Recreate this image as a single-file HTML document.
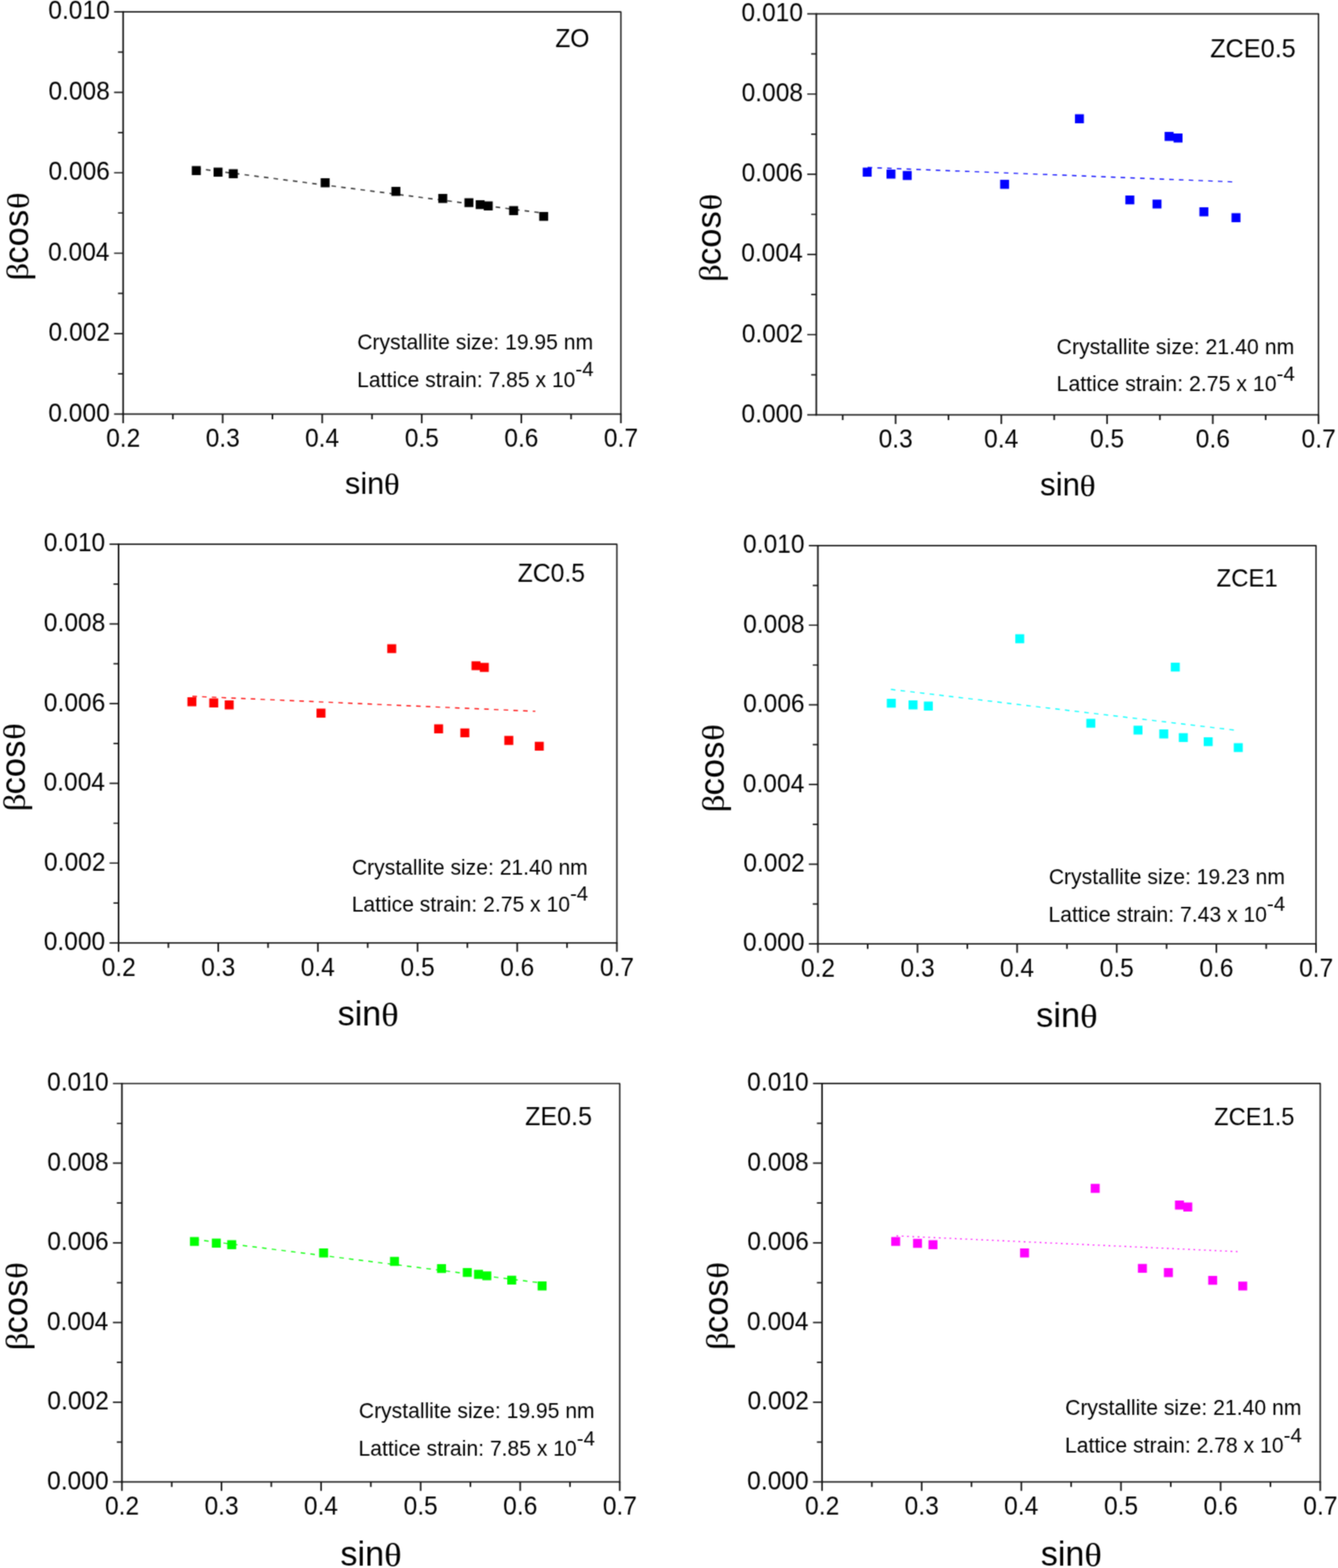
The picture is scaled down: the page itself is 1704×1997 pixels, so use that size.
<!DOCTYPE html>
<html><head><meta charset="utf-8"><title>Williamson-Hall plots</title>
<style>
html,body{margin:0;padding:0;background:#fff;}
svg{display:block;}
</style></head><body>
<svg width="1704" height="1997" viewBox="0 0 1704 1997" font-family="'Liberation Sans', Arial, sans-serif" fill="#000">
<defs><filter id="soft" color-interpolation-filters="sRGB" x="0" y="0" width="1704" height="1997" filterUnits="userSpaceOnUse"><feConvolveMatrix order="3" kernelMatrix="1 2 1 2 8 2 1 2 1" edgeMode="duplicate" preserveAlpha="false"/></filter></defs>
<rect width="1704" height="1997" fill="#fff"/>
<g filter="url(#soft)">
<rect width="1704" height="1997" fill="#fff"/>
<g>
<path d="M156.8 15.1H790.7V527.4" fill="none" stroke="#111111" stroke-width="1.7" stroke-linejoin="round"/>
<path d="M155.8 527.4H791.55" fill="none" stroke="#111111" stroke-width="1.7"/>
<path d="M156.8 14.25V528.25" fill="none" stroke="#111111" stroke-width="2"/>
<path d="M156.8 527.4h-11.5M156.8 476.17h-6.5M156.8 424.94h-11.5M156.8 373.71h-6.5M156.8 322.48h-11.5M156.8 271.25h-6.5M156.8 220.02h-11.5M156.8 168.79h-6.5M156.8 117.56h-11.5M156.8 66.33h-6.5M156.8 15.1h-11.5" fill="none" stroke="#111111" stroke-width="1.7"/>
<path d="M156.8 527.4v11.5M220.19 527.4v6.5M283.58 527.4v11.5M346.97 527.4v6.5M410.36 527.4v11.5M473.75 527.4v6.5M537.14 527.4v11.5M600.53 527.4v6.5M663.92 527.4v11.5M727.31 527.4v6.5M790.7 527.4v11.5" fill="none" stroke="#111111" stroke-width="2"/>
<text transform="translate(61.51,536.73) scale(1,1.08)" font-size="31.3">0.000</text>
<text transform="translate(61.85,434.27) scale(1,1.08)" font-size="31.3">0.002</text>
<text transform="translate(61.2,331.81) scale(1,1.08)" font-size="31.3">0.004</text>
<text transform="translate(61.66,229.35) scale(1,1.08)" font-size="31.3">0.006</text>
<text transform="translate(61.63,126.89) scale(1,1.08)" font-size="31.3">0.008</text>
<text transform="translate(61.51,24.43) scale(1,1.08)" font-size="31.3">0.010</text>
<text transform="translate(135.22,569.43) scale(1,1.08)" font-size="31.3">0.2</text>
<text transform="translate(261.9,569.43) scale(1,1.08)" font-size="31.3">0.3</text>
<text transform="translate(388.45,569.43) scale(1,1.08)" font-size="31.3">0.4</text>
<text transform="translate(515.43,569.43) scale(1,1.08)" font-size="31.3">0.5</text>
<text transform="translate(642.24,569.43) scale(1,1.08)" font-size="31.3">0.6</text>
<text transform="translate(769.12,569.43) scale(1,1.08)" font-size="31.3">0.7</text>
<text transform="translate(707.2,60.39) scale(1,1.055)" font-size="31.4">ZO</text>
<text x="454.93" y="445.4" font-size="26.9">Crystallite size: 19.95 nm</text>
<text x="454.79" y="492.8" font-size="26.9">Lattice strain: 7.85 x 10<tspan dy="-13.7" font-size="26.1">-4</tspan></text>
<text transform="translate(36.3,357.13) rotate(-90) scale(1.08,1)" font-size="41.0" font-family="'Liberation Serif', serif">β</text>
<text transform="translate(36.3,335.65) rotate(-90)" font-size="44">cos</text>
<text transform="translate(36.6,266.18) rotate(-90) scale(1.08,1)" font-size="41.0" font-family="'Liberation Serif', serif">θ</text>
<text x="439.3" y="629.3" font-size="39.2">sin</text>
<text transform="translate(489.09,630.3) scale(1.11,1)" font-size="37.63" font-family="'Liberation Serif', serif">θ</text>
<path d="M250 214.6L692.3 271.5" stroke="#333333" stroke-width="1.7" stroke-dasharray="5.8 6.6" fill="none"/>
<path d="M244.3 211.6h11.4v11.4h-11.4zM272 213.6h11.4v11.4h-11.4zM291.4 215.5h11.4v11.4h-11.4zM408.4 227h11.4v11.4h-11.4zM498.5 238h11.4v11.4h-11.4zM558.2 247h11.4v11.4h-11.4zM591.5 252.4h11.4v11.4h-11.4zM605.8 254.9h11.4v11.4h-11.4zM616.1 256.6h11.4v11.4h-11.4zM648.4 262.5h11.4v11.4h-11.4zM686.7 269.9h11.4v11.4h-11.4z" fill="#000000"/>
</g>
<g>
<path d="M1039.6 17.6H1679.2V528.4" fill="none" stroke="#111111" stroke-width="1.7" stroke-linejoin="round"/>
<path d="M1038.6 528.4H1680.05" fill="none" stroke="#111111" stroke-width="1.7"/>
<path d="M1039.6 16.75V529.25" fill="none" stroke="#111111" stroke-width="2"/>
<path d="M1039.6 528.4h-11.5M1039.6 477.32h-6.5M1039.6 426.24h-11.5M1039.6 375.16h-6.5M1039.6 324.08h-11.5M1039.6 273h-6.5M1039.6 221.92h-11.5M1039.6 170.84h-6.5M1039.6 119.76h-11.5M1039.6 68.68h-6.5M1039.6 17.6h-11.5" fill="none" stroke="#111111" stroke-width="1.7"/>
<path d="M1073.26 528.4v6.5M1140.59 528.4v11.5M1207.92 528.4v6.5M1275.24 528.4v11.5M1342.57 528.4v6.5M1409.89 528.4v11.5M1477.22 528.4v6.5M1544.55 528.4v11.5M1611.87 528.4v6.5M1679.2 528.4v11.5" fill="none" stroke="#111111" stroke-width="2"/>
<text transform="translate(944.31,537.73) scale(1,1.08)" font-size="31.3">0.000</text>
<text transform="translate(944.65,435.57) scale(1,1.08)" font-size="31.3">0.002</text>
<text transform="translate(944,333.41) scale(1,1.08)" font-size="31.3">0.004</text>
<text transform="translate(944.46,231.25) scale(1,1.08)" font-size="31.3">0.006</text>
<text transform="translate(944.43,129.09) scale(1,1.08)" font-size="31.3">0.008</text>
<text transform="translate(944.31,26.93) scale(1,1.08)" font-size="31.3">0.010</text>
<text transform="translate(1118.91,570.43) scale(1,1.08)" font-size="31.3">0.3</text>
<text transform="translate(1253.33,570.43) scale(1,1.08)" font-size="31.3">0.4</text>
<text transform="translate(1388.19,570.43) scale(1,1.08)" font-size="31.3">0.5</text>
<text transform="translate(1522.87,570.43) scale(1,1.08)" font-size="31.3">0.6</text>
<text transform="translate(1657.62,570.43) scale(1,1.08)" font-size="31.3">0.7</text>
<text transform="translate(1541.17,73.48) scale(1,1.055)" font-size="32.18">ZCE0.5</text>
<text x="1345.62" y="450.8" font-size="27.1">Crystallite size: 21.40 nm</text>
<text x="1345.58" y="498.3" font-size="27.1">Lattice strain: 2.75 x 10<tspan dy="-13.7" font-size="26.29">-4</tspan></text>
<text transform="translate(918.4,359.03) rotate(-90) scale(1.08,1)" font-size="41.0" font-family="'Liberation Serif', serif">β</text>
<text transform="translate(918.4,337.55) rotate(-90)" font-size="44">cos</text>
<text transform="translate(918.7,268.08) rotate(-90) scale(1.08,1)" font-size="41.0" font-family="'Liberation Serif', serif">θ</text>
<text x="1324.49" y="631.2" font-size="39.8">sin</text>
<text transform="translate(1374.97,632.2) scale(1.11,1)" font-size="38.21" font-family="'Liberation Serif', serif">θ</text>
<path d="M1105 213.3L1571.7 231.7" stroke="#0000ff" stroke-width="1.4" stroke-dasharray="5.8 6.6" fill="none"/>
<path d="M1098.7 213.5h11.4v11.4h-11.4zM1129 216.1h11.4v11.4h-11.4zM1149.7 217.8h11.4v11.4h-11.4zM1273.7 229h11.4v11.4h-11.4zM1369 145.6h11.4v11.4h-11.4zM1433.2 248.9h11.4v11.4h-11.4zM1467.8 254.2h11.4v11.4h-11.4zM1483.2 168h11.4v11.4h-11.4zM1494.6 170.1h11.4v11.4h-11.4zM1527.5 264h11.4v11.4h-11.4zM1568.4 271.5h11.4v11.4h-11.4z" fill="#0000ff"/>
</g>
<g>
<path d="M151 693.1H785.6V1200.8" fill="none" stroke="#111111" stroke-width="1.7" stroke-linejoin="round"/>
<path d="M150 1200.8H786.45" fill="none" stroke="#111111" stroke-width="1.7"/>
<path d="M151 692.25V1201.65" fill="none" stroke="#111111" stroke-width="2"/>
<path d="M151 1200.8h-11.5M151 1150.03h-6.5M151 1099.26h-11.5M151 1048.49h-6.5M151 997.72h-11.5M151 946.95h-6.5M151 896.18h-11.5M151 845.41h-6.5M151 794.64h-11.5M151 743.87h-6.5M151 693.1h-11.5" fill="none" stroke="#111111" stroke-width="1.7"/>
<path d="M151 1200.8v11.5M214.46 1200.8v6.5M277.92 1200.8v11.5M341.38 1200.8v6.5M404.84 1200.8v11.5M468.3 1200.8v6.5M531.76 1200.8v11.5M595.22 1200.8v6.5M658.68 1200.8v11.5M722.14 1200.8v6.5M785.6 1200.8v11.5" fill="none" stroke="#111111" stroke-width="2"/>
<text transform="translate(55.71,1210.13) scale(1,1.08)" font-size="31.3">0.000</text>
<text transform="translate(56.05,1108.59) scale(1,1.08)" font-size="31.3">0.002</text>
<text transform="translate(55.4,1007.05) scale(1,1.08)" font-size="31.3">0.004</text>
<text transform="translate(55.86,905.51) scale(1,1.08)" font-size="31.3">0.006</text>
<text transform="translate(55.83,803.97) scale(1,1.08)" font-size="31.3">0.008</text>
<text transform="translate(55.71,702.43) scale(1,1.08)" font-size="31.3">0.010</text>
<text transform="translate(129.42,1242.83) scale(1,1.08)" font-size="31.3">0.2</text>
<text transform="translate(256.24,1242.83) scale(1,1.08)" font-size="31.3">0.3</text>
<text transform="translate(382.93,1242.83) scale(1,1.08)" font-size="31.3">0.4</text>
<text transform="translate(510.05,1242.83) scale(1,1.08)" font-size="31.3">0.5</text>
<text transform="translate(637,1242.83) scale(1,1.08)" font-size="31.3">0.6</text>
<text transform="translate(764.02,1242.83) scale(1,1.08)" font-size="31.3">0.7</text>
<text transform="translate(659.19,741.38) scale(1,1.055)" font-size="31.56">ZC0.5</text>
<text x="448.13" y="1113.9" font-size="26.9">Crystallite size: 21.40 nm</text>
<text x="447.89" y="1160.9" font-size="26.9">Lattice strain: 2.75 x 10<tspan dy="-13.7" font-size="26.09">-4</tspan></text>
<text transform="translate(32,1033.13) rotate(-90) scale(1.08,1)" font-size="41.0" font-family="'Liberation Serif', serif">β</text>
<text transform="translate(32,1011.65) rotate(-90)" font-size="44">cos</text>
<text transform="translate(32.3,942.18) rotate(-90) scale(1.08,1)" font-size="41.0" font-family="'Liberation Serif', serif">θ</text>
<text x="429.88" y="1306.4" font-size="43.5">sin</text>
<text transform="translate(485.47,1307.4) scale(1.11,1)" font-size="41.76" font-family="'Liberation Serif', serif">θ</text>
<path d="M245 886.8L681.8 905.9" stroke="#ff0000" stroke-width="1.4" stroke-dasharray="5.8 6.6" fill="none"/>
<path d="M238.7 888.1h11.4v11.4h-11.4zM266.5 889.5h11.4v11.4h-11.4zM286.2 892h11.4v11.4h-11.4zM403.1 902.6h11.4v11.4h-11.4zM493.2 820.4h11.4v11.4h-11.4zM552.9 922.5h11.4v11.4h-11.4zM586.3 927.7h11.4v11.4h-11.4zM600.5 842.2h11.4v11.4h-11.4zM611.1 844.3h11.4v11.4h-11.4zM642.3 937.3h11.4v11.4h-11.4zM681.1 944.7h11.4v11.4h-11.4z" fill="#ff0000"/>
</g>
<g>
<path d="M1041.6 694.8H1676V1202.1" fill="none" stroke="#111111" stroke-width="1.7" stroke-linejoin="round"/>
<path d="M1040.6 1202.1H1676.85" fill="none" stroke="#111111" stroke-width="1.7"/>
<path d="M1041.6 693.95V1202.95" fill="none" stroke="#111111" stroke-width="2"/>
<path d="M1041.6 1202.1h-11.5M1041.6 1151.37h-6.5M1041.6 1100.64h-11.5M1041.6 1049.91h-6.5M1041.6 999.18h-11.5M1041.6 948.45h-6.5M1041.6 897.72h-11.5M1041.6 846.99h-6.5M1041.6 796.26h-11.5M1041.6 745.53h-6.5M1041.6 694.8h-11.5" fill="none" stroke="#111111" stroke-width="1.7"/>
<path d="M1041.6 1202.1v11.5M1105.04 1202.1v6.5M1168.48 1202.1v11.5M1231.92 1202.1v6.5M1295.36 1202.1v11.5M1358.8 1202.1v6.5M1422.24 1202.1v11.5M1485.68 1202.1v6.5M1549.12 1202.1v11.5M1612.56 1202.1v6.5M1676 1202.1v11.5" fill="none" stroke="#111111" stroke-width="2"/>
<text transform="translate(946.31,1211.43) scale(1,1.08)" font-size="31.3">0.000</text>
<text transform="translate(946.65,1109.97) scale(1,1.08)" font-size="31.3">0.002</text>
<text transform="translate(946,1008.51) scale(1,1.08)" font-size="31.3">0.004</text>
<text transform="translate(946.46,907.05) scale(1,1.08)" font-size="31.3">0.006</text>
<text transform="translate(946.43,805.59) scale(1,1.08)" font-size="31.3">0.008</text>
<text transform="translate(946.31,704.13) scale(1,1.08)" font-size="31.3">0.010</text>
<text transform="translate(1020.02,1244.13) scale(1,1.08)" font-size="31.3">0.2</text>
<text transform="translate(1146.8,1244.13) scale(1,1.08)" font-size="31.3">0.3</text>
<text transform="translate(1273.45,1244.13) scale(1,1.08)" font-size="31.3">0.4</text>
<text transform="translate(1400.53,1244.13) scale(1,1.08)" font-size="31.3">0.5</text>
<text transform="translate(1527.44,1244.13) scale(1,1.08)" font-size="31.3">0.6</text>
<text transform="translate(1654.42,1244.13) scale(1,1.08)" font-size="31.3">0.7</text>
<text transform="translate(1549.33,746.8) scale(1,1.055)" font-size="30.46">ZCE1</text>
<text x="1335.63" y="1126.4" font-size="26.93">Crystallite size: 19.23 nm</text>
<text x="1335.19" y="1173.7" font-size="26.93">Lattice strain: 7.43 x 10<tspan dy="-13.7" font-size="26.12">-4</tspan></text>
<text transform="translate(921.8,1034.53) rotate(-90) scale(1.08,1)" font-size="41.0" font-family="'Liberation Serif', serif">β</text>
<text transform="translate(921.8,1013.05) rotate(-90)" font-size="44">cos</text>
<text transform="translate(922.1,943.58) rotate(-90) scale(1.08,1)" font-size="41.0" font-family="'Liberation Serif', serif">θ</text>
<text x="1319.57" y="1307.8" font-size="43.8">sin</text>
<text transform="translate(1375.51,1308.8) scale(1.11,1)" font-size="42.05" font-family="'Liberation Serif', serif">θ</text>
<path d="M1134.6 878L1572.5 929.9" stroke="#00ffff" stroke-width="1.4" stroke-dasharray="5.8 6.6" fill="none"/>
<path d="M1129.4 889.9h11.4v11.4h-11.4zM1157.1 892h11.4v11.4h-11.4zM1176.6 893.5h11.4v11.4h-11.4zM1293 807.8h11.4v11.4h-11.4zM1383.5 915.4h11.4v11.4h-11.4zM1443.6 924.2h11.4v11.4h-11.4zM1476.4 929.1h11.4v11.4h-11.4zM1491.1 843.9h11.4v11.4h-11.4zM1501.3 933.7h11.4v11.4h-11.4zM1533 938.9h11.4v11.4h-11.4zM1571.3 946.4h11.4v11.4h-11.4z" fill="#00ffff"/>
</g>
<g>
<path d="M155.3 1380H789.3V1887.3" fill="none" stroke="#111111" stroke-width="1.7" stroke-linejoin="round"/>
<path d="M154.3 1887.3H790.15" fill="none" stroke="#111111" stroke-width="1.7"/>
<path d="M155.3 1379.15V1888.15" fill="none" stroke="#111111" stroke-width="2"/>
<path d="M155.3 1887.3h-11.5M155.3 1836.57h-6.5M155.3 1785.84h-11.5M155.3 1735.11h-6.5M155.3 1684.38h-11.5M155.3 1633.65h-6.5M155.3 1582.92h-11.5M155.3 1532.19h-6.5M155.3 1481.46h-11.5M155.3 1430.73h-6.5M155.3 1380h-11.5" fill="none" stroke="#111111" stroke-width="1.7"/>
<path d="M155.3 1887.3v11.5M218.7 1887.3v6.5M282.1 1887.3v11.5M345.5 1887.3v6.5M408.9 1887.3v11.5M472.3 1887.3v6.5M535.7 1887.3v11.5M599.1 1887.3v6.5M662.5 1887.3v11.5M725.9 1887.3v6.5M789.3 1887.3v11.5" fill="none" stroke="#111111" stroke-width="2"/>
<text transform="translate(60.01,1896.63) scale(1,1.08)" font-size="31.3">0.000</text>
<text transform="translate(60.35,1795.17) scale(1,1.08)" font-size="31.3">0.002</text>
<text transform="translate(59.7,1693.71) scale(1,1.08)" font-size="31.3">0.004</text>
<text transform="translate(60.16,1592.25) scale(1,1.08)" font-size="31.3">0.006</text>
<text transform="translate(60.13,1490.79) scale(1,1.08)" font-size="31.3">0.008</text>
<text transform="translate(60.01,1389.33) scale(1,1.08)" font-size="31.3">0.010</text>
<text transform="translate(133.72,1929.33) scale(1,1.08)" font-size="31.3">0.2</text>
<text transform="translate(260.42,1929.33) scale(1,1.08)" font-size="31.3">0.3</text>
<text transform="translate(386.99,1929.33) scale(1,1.08)" font-size="31.3">0.4</text>
<text transform="translate(513.99,1929.33) scale(1,1.08)" font-size="31.3">0.5</text>
<text transform="translate(640.82,1929.33) scale(1,1.08)" font-size="31.3">0.6</text>
<text transform="translate(767.72,1929.33) scale(1,1.08)" font-size="31.3">0.7</text>
<text transform="translate(668.68,1432.88) scale(1,1.055)" font-size="31.96">ZE0.5</text>
<text x="457.03" y="1806.2" font-size="26.89">Crystallite size: 19.95 nm</text>
<text x="456.6" y="1854.2" font-size="26.89">Lattice strain: 7.85 x 10<tspan dy="-13.7" font-size="26.08">-4</tspan></text>
<text transform="translate(34.9,1719.63) rotate(-90) scale(1.08,1)" font-size="41.0" font-family="'Liberation Serif', serif">β</text>
<text transform="translate(34.9,1698.15) rotate(-90)" font-size="44">cos</text>
<text transform="translate(35.2,1628.68) rotate(-90) scale(1.08,1)" font-size="41.0" font-family="'Liberation Serif', serif">θ</text>
<text x="433.58" y="1993.8" font-size="43.5">sin</text>
<text transform="translate(489.17,1994.8) scale(1.11,1)" font-size="41.76" font-family="'Liberation Serif', serif">θ</text>
<path d="M247.6 1578.5L690.4 1634.1" stroke="#00ff00" stroke-width="1.4" stroke-dasharray="5.8 6.6" fill="none"/>
<path d="M241.9 1575.4h11.4v11.4h-11.4zM269.8 1577.5h11.4v11.4h-11.4zM289.4 1579.6h11.4v11.4h-11.4zM406.4 1590.1h11.4v11.4h-11.4zM496.7 1600.8h11.4v11.4h-11.4zM556.6 1609.9h11.4v11.4h-11.4zM589.4 1614.9h11.4v11.4h-11.4zM603.7 1617.3h11.4v11.4h-11.4zM614.3 1619.2h11.4v11.4h-11.4zM646 1624.7h11.4v11.4h-11.4zM684.7 1632.1h11.4v11.4h-11.4z" fill="#00ff00"/>
</g>
<g>
<path d="M1046.9 1379.9H1681.4V1887.3" fill="none" stroke="#111111" stroke-width="1.7" stroke-linejoin="round"/>
<path d="M1045.9 1887.3H1682.25" fill="none" stroke="#111111" stroke-width="1.7"/>
<path d="M1046.9 1379.05V1888.15" fill="none" stroke="#111111" stroke-width="2"/>
<path d="M1046.9 1887.3h-11.5M1046.9 1836.56h-6.5M1046.9 1785.82h-11.5M1046.9 1735.08h-6.5M1046.9 1684.34h-11.5M1046.9 1633.6h-6.5M1046.9 1582.86h-11.5M1046.9 1532.12h-6.5M1046.9 1481.38h-11.5M1046.9 1430.64h-6.5M1046.9 1379.9h-11.5" fill="none" stroke="#111111" stroke-width="1.7"/>
<path d="M1046.9 1887.3v11.5M1110.35 1887.3v6.5M1173.8 1887.3v11.5M1237.25 1887.3v6.5M1300.7 1887.3v11.5M1364.15 1887.3v6.5M1427.6 1887.3v11.5M1491.05 1887.3v6.5M1554.5 1887.3v11.5M1617.95 1887.3v6.5M1681.4 1887.3v11.5" fill="none" stroke="#111111" stroke-width="2"/>
<text transform="translate(951.61,1896.63) scale(1,1.08)" font-size="31.3">0.000</text>
<text transform="translate(951.95,1795.15) scale(1,1.08)" font-size="31.3">0.002</text>
<text transform="translate(951.3,1693.67) scale(1,1.08)" font-size="31.3">0.004</text>
<text transform="translate(951.76,1592.19) scale(1,1.08)" font-size="31.3">0.006</text>
<text transform="translate(951.73,1490.71) scale(1,1.08)" font-size="31.3">0.008</text>
<text transform="translate(951.61,1389.23) scale(1,1.08)" font-size="31.3">0.010</text>
<text transform="translate(1025.32,1929.33) scale(1,1.08)" font-size="31.3">0.2</text>
<text transform="translate(1152.12,1929.33) scale(1,1.08)" font-size="31.3">0.3</text>
<text transform="translate(1278.79,1929.33) scale(1,1.08)" font-size="31.3">0.4</text>
<text transform="translate(1405.89,1929.33) scale(1,1.08)" font-size="31.3">0.5</text>
<text transform="translate(1532.82,1929.33) scale(1,1.08)" font-size="31.3">0.6</text>
<text transform="translate(1659.82,1929.33) scale(1,1.08)" font-size="31.3">0.7</text>
<text transform="translate(1546.33,1432.6) scale(1,1.055)" font-size="30.16">ZCE1.5</text>
<text x="1356.43" y="1802.4" font-size="26.94">Crystallite size: 21.40 nm</text>
<text x="1356.19" y="1850.2" font-size="26.94">Lattice strain: 2.78 x 10<tspan dy="-13.7" font-size="26.13">-4</tspan></text>
<text transform="translate(927.2,1719.33) rotate(-90) scale(1.08,1)" font-size="41.0" font-family="'Liberation Serif', serif">β</text>
<text transform="translate(927.2,1697.85) rotate(-90)" font-size="44">cos</text>
<text transform="translate(927.5,1628.38) rotate(-90) scale(1.08,1)" font-size="41.0" font-family="'Liberation Serif', serif">θ</text>
<text x="1325.38" y="1993.8" font-size="43.5">sin</text>
<text transform="translate(1380.97,1994.8) scale(1.11,1)" font-size="41.76" font-family="'Liberation Serif', serif">θ</text>
<path d="M1141.7 1574L1579 1594.2" stroke="#ff00ff" stroke-width="1.3" stroke-dasharray="2.2 4.56" fill="none"/>
<path d="M1135 1575.4h11.4v11.4h-11.4zM1162.8 1577.8h11.4v11.4h-11.4zM1182.5 1579.6h11.4v11.4h-11.4zM1299.1 1590.1h11.4v11.4h-11.4zM1389.1 1507.8h11.4v11.4h-11.4zM1449.2 1609.7h11.4v11.4h-11.4zM1482.3 1615h11.4v11.4h-11.4zM1496.4 1529.1h11.4v11.4h-11.4zM1507 1531.5h11.4v11.4h-11.4zM1538.7 1624.9h11.4v11.4h-11.4zM1577 1632.2h11.4v11.4h-11.4z" fill="#ff00ff"/>
</g>
</g>
</svg>
</body></html>
